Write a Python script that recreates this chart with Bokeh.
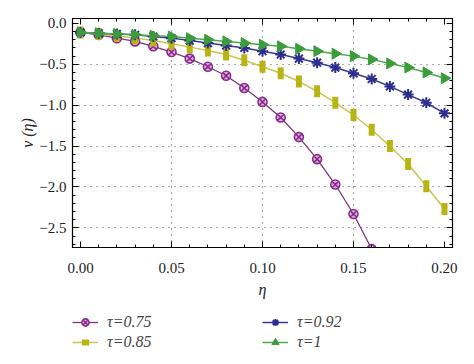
import math
from bokeh.plotting import figure
from bokeh.layouts import column
from bokeh.models import (Range1d, FixedTicker, LinearAxis, Legend, LegendItem,
                          CustomJSTickFormatter)
from bokeh.embed import file_html
from bokeh.resources import INLINE

# ---- data ----
eta = [0.00, 0.01, 0.02, 0.03, 0.04, 0.05, 0.06, 0.07, 0.08, 0.09, 0.10,
       0.11, 0.12, 0.13, 0.14, 0.15, 0.16, 0.17, 0.18, 0.19, 0.20]
v_075 = [-0.11, -0.14, -0.18, -0.22, -0.28, -0.35, -0.43, -0.53, -0.64, -0.79,
         -0.96, -1.15, -1.39, -1.66, -1.97, -2.33, -2.76]
v_085 = [-0.11, -0.13, -0.15, -0.18, -0.21, -0.25, -0.29, -0.33, -0.38, -0.45,
         -0.53, -0.61, -0.71, -0.83, -0.97, -1.12, -1.30, -1.50, -1.72, -1.99, -2.27]
v_092 = [-0.11, -0.12, -0.13, -0.14, -0.16, -0.18, -0.21, -0.24, -0.27, -0.30,
         -0.34, -0.38, -0.43, -0.48, -0.54, -0.61, -0.68, -0.77, -0.87, -0.97, -1.10]
v_100 = [-0.11, -0.12, -0.13, -0.14, -0.15, -0.16, -0.18, -0.20, -0.22, -0.24,
         -0.26, -0.28, -0.31, -0.34, -0.37, -0.40, -0.44, -0.49, -0.54, -0.60, -0.67]
labels = ["τ=0.75", "τ=0.85", "τ=0.92", "τ=1"]

x_ticks = [0.00, 0.05, 0.10, 0.15, 0.20]
x_tick_labels = ["0.00", "0.05", "0.10", "0.15", "0.20"]
y_ticks = [0.0, -0.5, -1.0, -1.5, -2.0, -2.5]
y_tick_labels = ["0.0", "\u22120.5", "\u22121.0", "\u22121.5", "\u22122.0", "\u22122.5"]

FONT = "Liberation Serif"

p = figure(width=466, height=300, output_backend="svg", toolbar_location=None,
           x_range=Range1d(-0.0044, 0.2044), y_range=Range1d(-2.74, 0.06),
           min_border_left=72, min_border_right=14, min_border_top=18,
           min_border_bottom=47, x_axis_label="η", y_axis_label="v (η)")
p.outline_line_color = "black"
p.outline_line_width = 1.2
p.background_fill_color = "white"
p.border_fill_color = "white"

# grid
for g in (p.xgrid[0], p.ygrid[0]):
    g.grid_line_color = "#555555"
    g.grid_line_dash = "1 5"
    g.grid_line_width = 1.2
p.xgrid[0].ticker = FixedTicker(ticks=x_ticks[1:-1])
p.ygrid[0].ticker = FixedTicker(ticks=y_ticks[1:])

def style_axis(ax, ticks, minor):
    ax.ticker = FixedTicker(ticks=ticks, minor_ticks=minor)
    ax.major_tick_in = 6
    ax.major_tick_out = 0
    ax.minor_tick_in = 3
    ax.minor_tick_out = 0
    ax.axis_line_color = "black"
    ax.major_tick_line_color = "black"
    ax.minor_tick_line_color = "black"
    ax.major_label_text_font = FONT
    ax.major_label_text_font_size = "15px"
    ax.major_label_text_color = "#222222"
    ax.axis_label_text_font = FONT
    ax.axis_label_text_font_size = "16px"
    ax.axis_label_text_font_style = "italic"
    ax.axis_label_text_color = "#222222"

x_minor = [round(i * 0.01, 2) for i in range(0, 21)]
y_minor = [round(-i * 0.1, 1) for i in range(0, 28)]

xa = p.xaxis[0]
style_axis(xa, x_ticks, x_minor)
xa.major_label_overrides = dict(zip(x_ticks, x_tick_labels))
xa.major_label_standoff = 15
xa.axis_label_standoff = 5
ya = p.yaxis[0]
style_axis(ya, y_ticks, y_minor)
ya.major_label_overrides = dict(zip(y_ticks, y_tick_labels))
ya.major_label_standoff = 6
ya.axis_label_standoff = 0

top = LinearAxis(formatter=CustomJSTickFormatter(code="return ''"))
style_axis(top, x_ticks, x_minor)
p.add_layout(top, "above")
right = LinearAxis(formatter=CustomJSTickFormatter(code="return ''"))
style_axis(right, y_ticks, y_minor)
p.add_layout(right, "right")

# series styles
c1, c1l = "#8a2b8c", "#7e3584"
c2, c2l = "#b8b414", "#c9c650"
c3, c3l = "#2e2e8c", "#3a3a94"
c4, c4l = "#3a9c3a", "#4caa4c"

def draw(fig, xs, ys):
    r = []
    r.append((fig.line(xs[0], ys[0], line_color=c1l, line_width=1.3),
              fig.scatter(xs[0], ys[0], marker="circle_x", size=9, line_color=c1,
                          fill_color="#dcb0dd", line_width=1.6)))
    r.append((fig.line(xs[1], ys[1], line_color=c2l, line_width=1.5),
              fig.scatter(xs[1], ys[1], marker="dash", size=12, angle=math.pi / 2,
                          line_color=c2, line_width=6)))
    r.append((fig.line(xs[2], ys[2], line_color=c3l, line_width=1.5),
              fig.scatter(xs[2], ys[2], marker="asterisk", size=11, line_color=c3,
                          line_width=2)))
    r.append((fig.line(xs[3], ys[3], line_color=c4l, line_width=1.5),
              fig.scatter(xs[3], ys[3], marker="triangle", size=11,
                          angle=-math.pi / 2, fill_color=c4, line_color=c4)))
    return r

n1 = len(v_075)
series_x = [eta[:n1], eta, eta, eta]
series_y = [v_075, v_085, v_092, v_100]
draw(p, series_x, series_y)

# legend panel: same series, drawn outside its visible range (only the legend shows)
lf = figure(width=466, height=56, output_backend="svg", toolbar_location=None,
            x_range=Range1d(10, 11), y_range=Range1d(10, 11),
            x_axis_location=None, y_axis_location=None,
            min_border_left=0, min_border_right=0, min_border_top=0,
            min_border_bottom=0)
lf.grid.visible = False
lf.outline_line_color = None
lf.border_fill_color = "white"
rs = draw(lf, series_x, series_y)

legend = Legend(items=[LegendItem(label=labels[i], renderers=list(rs[i]))
                       for i in range(4)],
                ncols=2, orientation="vertical", location=(0, 5))
legend.border_line_color = None
legend.background_fill_alpha = 0
legend.label_text_font = FONT
legend.label_text_font_style = "italic"
legend.label_text_font_size = "16px"
legend.glyph_width = 26
legend.glyph_height = 18
legend.label_standoff = 9
legend.label_width = 153
legend.spacing = 2
legend.padding = 0
legend.margin = 0
lf.add_layout(legend)

layout = column(p, lf, spacing=0)
html = file_html(layout, INLINE)
open("out.html", "w").write(html)
